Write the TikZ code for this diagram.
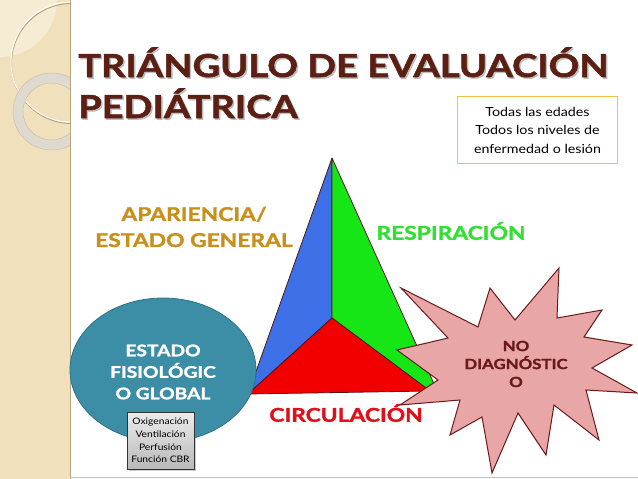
\documentclass[tikz,border=0pt]{standalone}
\usepackage{fontspec}
\setmainfont{Lato}[UprightFeatures={FakeStretch=1.14},
  BoldFeatures={FakeStretch=1.2,FakeBold=1.6}]
\usetikzlibrary{shapes.geometric,shadows}

\definecolor{stripbg}{HTML}{F1E0BC}
\definecolor{striplt}{HTML}{F6EBD3}
\definecolor{stripline}{HTML}{B8A482}
\definecolor{ringgray}{HTML}{DEDAD0}
\definecolor{titlebrown}{HTML}{5C1F14}
\definecolor{boxgold}{HTML}{F0C24A}
\definecolor{triblue}{HTML}{3D6FE6}
\definecolor{trigreen}{HTML}{16E616}
\definecolor{trired}{HTML}{F20000}
\definecolor{edgedark}{HTML}{4A1A14}
\definecolor{goldtext}{HTML}{C8901B}
\definecolor{greentext}{HTML}{33DF33}
\definecolor{redtext}{HTML}{E0101A}
\definecolor{tealfill}{HTML}{3B8EA6}
\definecolor{tealedge}{HTML}{2E7187}
\definecolor{starfill}{HTML}{E8A6A6}
\definecolor{staredge}{HTML}{6A1A1A}

\tikzset{
  titletext/.style={anchor=base west, inner sep=0pt, text=titlebrown,
    font=\fontsize{31.7}{31.7}\selectfont\bfseries},
  sidelabel/.style={align=center, inner sep=0pt, font=\fontsize{19}{26}\selectfont\bfseries},
  inside/.style={align=center, inner sep=0pt},
  triedge/.style={draw=edgedark, line width=0.8pt, line join=round}
}

\begin{document}
\begin{tikzpicture}[x=1pt,y=-1pt]
  \useasboundingbox (0,0) rectangle (638,479);

  % side strip
  \fill[stripbg] (0,0) rectangle (70,479);
  \begin{scope}
    \clip (0,0) rectangle (70,479);
    \fill[striplt] (0,0) circle (57);
    \draw[stripline, line width=1pt] (71.5,63.5) circle (60);
    \draw[white, line width=1pt] (71,62) circle (60);
    \fill[ringgray, even odd rule] (51.5,111.5) circle (38.5) (51.5,111.5) circle (28.5);
    \draw[stripline!70, line width=0.5pt] (51.5,111.5) circle (38.5) (51.5,111.5) circle (28.5);
  \end{scope}
  \draw[stripline, line width=1pt] (70,0) -- (70,479);
  \draw[black!25, line width=1pt] (70,477.5) -- (638,477.5);

  % title
  \node[titletext, text=black!25] (title1s) at (79.5,78.5) {TRIÁNGULO DE EVALUACIÓN};
  \node[titletext, text=black!25] (title2s) at (79.5,119.5) {PEDIÁTRICA};
  \node[titletext] (title1) at (78,77) {TRIÁNGULO DE EVALUACIÓN};
  \node[titletext] (title2) at (78,118) {PEDIÁTRICA};

  \node[draw=boxgold, line width=1pt, fill=white, minimum width=160pt, minimum height=67pt,
    align=center, font=\fontsize{12.5}{18.5}\selectfont] (edades) at (537.5,130)
    {Todas las edades\\Todos los niveles de\\enfermedad o lesión};

  % triangle
  \coordinate (apex) at (332,158);
  \coordinate (centro) at (332,318);
  \coordinate (izq) at (248,394);
  \coordinate (der) at (430,391);
  \coordinate (derg) at (435,386);
  \filldraw[triedge, fill=triblue] (apex) -- (centro) -- (izq) -- cycle;
  \filldraw[triedge, fill=trigreen] (apex) -- (centro) -- (der) -- (derg) -- cycle;
  \filldraw[triedge, fill=trired] (centro) -- (izq) -- (der) -- cycle;

  \node[sidelabel, text=goldtext] (apariencia) at (194,227) {APARIENCIA/\\ESTADO GENERAL};
  \node[sidelabel, text=greentext] (respiracion) at (451,231) {RESPIRACIÓN};
  \node[sidelabel, text=redtext] (circulacion) at (346,413) {CIRCULACIÓN};

  % estado fisiologico
  \node[ellipse, draw=tealedge, line width=0.8pt, fill=tealfill, minimum width=186pt,
    minimum height=144pt] (estado) at (163,370) {};
  \node[inside, text=white, font=\fontsize{16}{21.5}\selectfont\bfseries] (estadotxt)
    at (163,372) {ESTADO\\FISIOLÓGIC\\O GLOBAL};
  \node[draw=black!80, line width=0.6pt, top color=gray!15, bottom color=gray!55,
    drop shadow={shadow xshift=1.5pt, shadow yshift=-1.5pt, opacity=0.4},
    minimum width=67pt, minimum height=57pt, inside,
    font=\fontsize{9}{12.7}\selectfont] (funciones) at (160.5,440.5)
    {Oxigenación\\Ventilación\\Perfusión\\Función CBR};

  % estrella
  \filldraw[fill=starfill, draw=staredge, line width=1pt, line join=miter]
    (401,288) -- (478,327) -- (490,288) -- (515,320) -- (559,268) -- (557,318)
    -- (602,310) -- (584,337) -- (632,345) -- (592,368) -- (637,393) -- (586,390)
    -- (599,440) -- (554,405) -- (546,455) -- (518,413) -- (492,473) -- (482,417)
    -- (450,435) -- (460,400) -- (400,405) -- (438,380) -- (397,350) -- (448,338) -- cycle;
  \node[inside, text=staredge, font=\fontsize{14}{18}\selectfont\bfseries] (nodiag)
    at (516,364) {NO\\DIAGNÓSTIC\\O};
\end{tikzpicture}
\end{document}
